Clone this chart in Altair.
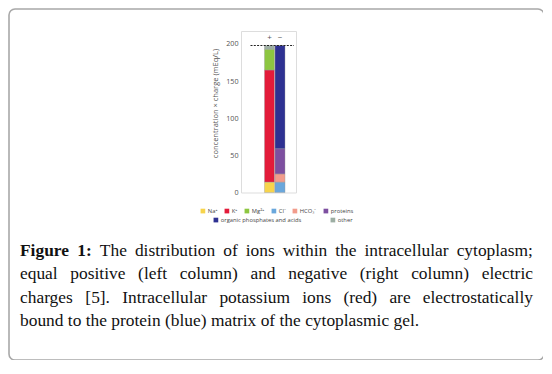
import altair as alt
import pandas as pd

# ---------------- data ----------------
ions = ["Na⁺", "K⁺", "Mg²⁺", "other", "Cl⁻", "HCO₃⁻", "proteins", "organic phosphates and acids"]
column = ["+", "+", "+", "+", "−", "−", "−", "−"]
values = [14, 151, 28, 5, 14, 11, 34, 139]
ion_colors = ["#F7D44C", "#E31B3A", "#8DC641", "#9DAEA3", "#6AA7DC", "#F29C8C", "#7D4FA0", "#2E3192"]
legend_row1 = ["Na⁺", "K⁺", "Mg²⁺", "Cl⁻", "HCO₃⁻", "proteins"]
legend_row2 = ["organic phosphates and acids", "other"]
y_ticks = [0, 50, 100, 150, 200]
y_title = "concentration × charge (mEq/L)"

caption_lines = [
    [("Figure", True), ("1:", True)] + [(w, False) for w in "The distribution of ions within the intracellular cytoplasm;".split()],
    [(w, False) for w in "equal positive (left column) and negative (right column) electric".split()],
    [(w, False) for w in "charges [5]. Intracellular potassium ions (red) are electrostatically".split()],
    [(w, False) for w in "bound to the protein (blue) matrix of the cytoplasmic gel.".split()],
]
caption_justified = [True, True, True, False]

# ---------------- derived tables ----------------
color_of = dict(zip(ions, ion_colors))
df = pd.DataFrame({"ion": ions, "col": column, "v": values})
df["y1"] = df.groupby("col")["v"].cumsum()
df["y0"] = df["y1"] - df["v"]
df["ion2"] = df["ion"]
total = int(df[df["col"] == "+"]["v"].sum())

bars1 = df[df["ion"].isin(legend_row1)]
bars2 = df[df["ion"].isin(legend_row2)]

# Times / Liberation Serif metrics (1/1000 em)
REG = dict(zip("abcdefghijklmnopqrstuvwxyz",
               [444, 500, 444, 500, 444, 333, 500, 500, 278, 278, 500, 278, 778, 500, 500, 500, 500, 333, 389, 278, 500, 500, 722, 500, 500, 444]))
REG.update({"(": 333, ")": 333, "[": 333, "]": 333, ",": 250, ".": 250, ":": 278, ";": 278, " ": 250,
            "I": 333, "T": 611, "F": 556})
REG.update({d: 500 for d in "0123456789"})
BOLD = {"F": 611, "i": 278, "g": 500, "u": 556, "r": 444, "e": 444, "1": 500, ":": 333, " ": 250}

FS = 17.4
LEFT, RIGHT = -221.0, 292.0       # relative to plot origin
BASE0, LSTEP = 225.0, 23.4


def wwidth(w, bold):
    tab = BOLD if bold else REG
    return sum(tab.get(c, 500) for c in w) * FS / 1000.0


rows = []
for i, line in enumerate(caption_lines):
    widths = [wwidth(w, b) for w, b in line]
    if caption_justified[i]:
        gap = (RIGHT - LEFT - sum(widths)) / (len(line) - 1)
    else:
        gap = 250 * FS / 1000.0
    x = LEFT
    for (w, b), wd in zip(line, widths):
        rows.append({"word": w, "px": x, "py": BASE0 + i * LSTEP, "bold": b})
        x += wd + gap
cap = pd.DataFrame(rows)

# ---------------- chart ----------------
xscale = alt.Scale(domain=["+", "−"], range=[23.5, 44], paddingInner=0.05, paddingOuter=0)
yscale = alt.Scale(domain=[0, 217.5], nice=False, zero=True)

legend_common = dict(orient="none", direction="horizontal", title=None, symbolType="square",
                     symbolSize=22, symbolStrokeWidth=0, labelFontSize=5.8, labelColor="#444",
                     labelFont="Open Sans", padding=0, labelOffset=2)

b1 = alt.Chart(bars1).mark_bar(stroke="#9a9a9a", strokeWidth=0.4).encode(
    x=alt.X("col:N", scale=xscale, axis=None),
    y=alt.Y("y1:Q", scale=yscale,
            axis=alt.Axis(values=y_ticks, title=y_title, domain=False, ticks=False, grid=False,
                          labelFontSize=7.2, labelColor="#555", labelFont="Open Sans", labelPadding=3,
                          titleFontSize=7.5, titleFontWeight="normal", titleColor="#555",
                          titleFont="Open Sans", titlePadding=6, titleY=72)),
    y2="y0",
    color=alt.Color("ion:N", scale=alt.Scale(domain=legend_row1, range=[color_of[k] for k in legend_row1]),
                    legend=alt.Legend(legendX=-41, legendY=177, columnPadding=6, **legend_common)),
)

b2 = alt.Chart(bars2).mark_bar(stroke="#9a9a9a", strokeWidth=0.4).encode(
    x=alt.X("col:N", scale=xscale, axis=None),
    y=alt.Y("y1:Q", scale=yscale),
    y2="y0",
    fill=alt.Fill("ion2:N", scale=alt.Scale(domain=legend_row2, range=[color_of[k] for k in legend_row2]),
                  legend=alt.Legend(legendX=-28, legendY=186, columnPadding=28, **legend_common)),
)

signs = alt.Chart(pd.DataFrame({"col": ["+", "−"]})).mark_text(
    fontSize=8, color="#555", font="Open Sans").encode(
    x=alt.X("col:N", scale=xscale, axis=None),
    y=alt.Y(datum=208, scale=yscale),
    text="col:N",
)

rule = alt.Chart(pd.DataFrame({"total": [total]})).mark_rule(
    color="#222", strokeDash=[2, 1.3], strokeWidth=1.1).encode(
    y=alt.Y("total:Q", scale=yscale),
    x=alt.value(9.5), x2=alt.value(53),
)

cap_reg = alt.Chart(cap[~cap["bold"]]).mark_text(
    align="left", baseline="alphabetic", font="Liberation Serif", fontSize=FS, color="#111").encode(
    x=alt.X("px:Q", scale=None, axis=None),
    y=alt.Y("py:Q", scale=None, axis=None),
    text="word:N",
)
cap_bold = alt.Chart(cap[cap["bold"]]).mark_text(
    align="left", baseline="alphabetic", font="Liberation Serif", fontSize=FS, fontWeight="bold",
    color="#111").encode(
    x=alt.X("px:Q", scale=None, axis=None),
    y=alt.Y("py:Q", scale=None, axis=None),
    text="word:N",
)

border = alt.Chart(pd.DataFrame({"a": [0]})).mark_rect(
    filled=False, stroke="#a8a8a8", strokeWidth=1.6, cornerRadius=6).encode(
    x=alt.value(-232), x2=alt.value(303), y=alt.value(-22), y2=alt.value(329),
)

chart = alt.layer(b1, b2, rule, signs, cap_reg, cap_bold, border).properties(
    width=55, height=161.5,
    autosize=alt.AutoSizeParams(type="none"),
    padding={"left": 233, "top": 23, "right": 247, "bottom": 167.5},
).configure_view(fill="#FDEEC7", strokeWidth=0).configure(background="white")

chart.save("out.html", embed_options={"renderer": "svg", "actions": False})
